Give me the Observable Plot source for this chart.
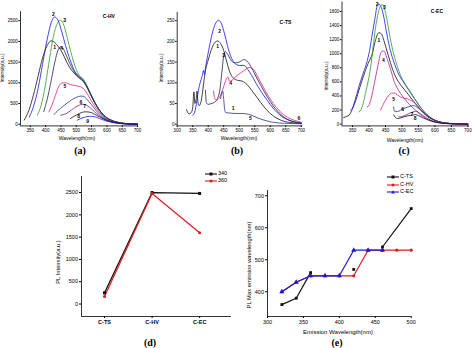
<!DOCTYPE html>
<html><head><meta charset="utf-8">
<script src="https://cdn.jsdelivr.net/npm/d3@7"></script>
<script src="https://cdn.jsdelivr.net/npm/@observablehq/plot@0.6"></script>
<style>
body{margin:0;background:#fff;}
#wrap{position:relative;width:474px;height:348px;overflow:hidden;font-family:"Liberation Sans",Arial,sans-serif;background:#fff;}
.p{position:absolute;}
.p svg{overflow:visible;}
.t{position:absolute;white-space:nowrap;color:#000;line-height:1;}
.cap{font-family:"Liberation Serif",serif;font-weight:bold;font-size:10px;transform:translate(-50%,-50%);}
.xl{transform:translate(-50%,-50%);}
.yl{transform:translate(-50%,-50%) rotate(-90deg);}
.lg{position:absolute;font-size:5.5px;line-height:1;}
</style></head><body><div id="wrap"></div>
<script>
// ---------------- DATA ----------------
// (a) C-HV spectra: [wavelength nm, intensity a.u.]
const hv1 = [[330,100],[345,330],[360,700],[375,1150],[390,1600],[405,1900],[418,2014],[430,1970],[442,1870],[455,1720],[470,1480],[485,1300],[500,1180],[512,1100],[522,1040],[532,930],[545,740],[560,520],[575,340],[590,210],[610,110],[630,55],[660,18],[700,0]];
const hv2 = [[347,178],[360,420],[375,850],[390,1450],[405,2050],[418,2450],[429,2590],[440,2520],[452,2250],[465,1900],[480,1550],[495,1280],[510,1150],[522,1080],[532,960],[545,760],[560,530],[575,345],[590,210],[610,110],[630,55],[660,18],[700,0]];
const hv3 = [[373,218],[385,450],[398,900],[410,1450],[422,2000],[435,2380],[449,2510],[460,2380],[470,2100],[482,1750],[495,1420],[508,1200],[520,1110],[532,970],[545,770],[560,540],[575,350],[590,215],[610,110],[630,55],[660,18],[700,0]];
const hv4 = [[394,306],[405,600],[418,1050],[430,1500],[440,1780],[449,1870],[458,1820],[468,1650],[480,1450],[495,1250],[510,1130],[522,1060],[534,920],[545,750],[560,530],[575,345],[590,210],[610,110],[630,55],[660,18],[700,0]];
const hv5 = [[411,300],[420,450],[432,700],[442,900],[454,1000],[466,1000],[480,960],[498,930],[512,910],[522,870],[532,780],[545,620],[560,440],[575,290],[595,150],[620,60],[650,20],[700,0]];
const hv6 = [[427,234],[440,330],[455,420],[470,510],[485,590],[500,650],[515,680],[525,670],[535,600],[550,470],[565,330],[580,210],[600,110],[625,45],[660,12],[700,0]];
const hv7 = [[449,218],[465,250],[480,320],[495,400],[510,460],[520,480],[530,470],[545,400],[560,300],[580,180],[600,95],[630,35],[660,10],[700,0]];
const hv8 = [[481,138],[495,200],[510,260],[530,300],[545,290],[560,240],[580,160],[600,90],[630,35],[660,10],[700,0]];
const hv9 = [[503,97],[515,140],[530,175],[547,193],[560,180],[575,140],[595,85],[620,40],[650,12],[700,0]];
const hvLabelText = ["1","2","3","4","5","6","7","8","9","C-HV"];
const hvLabelNm   = [429,425,462,452,463,515,527,508,537,606];
const hvLabelI    = [1852,2650,2510,1828,903,517,440,179,70,2600];

// (b) C-TS spectra
const ts1 = [[330,35],[338,25],[345,28],[350,40],[354,78],[357,50],[361,60],[364,80],[367,52],[371,45],[377,55],[383,85],[390,125],[400,155],[410,180],[420,196],[430,201],[440,195],[450,178],[460,150],[470,125],[480,112],[495,106],[510,104],[525,96],[540,82],[560,62],[580,42],[600,26],[625,13],[650,6],[700,2]];
const ts2 = [[350,22],[356,28],[362,50],[368,80],[374,100],[380,115],[385,130],[388,120],[391,135],[398,165],[405,192],[415,225],[425,245],[433,251],[442,244],[452,220],[462,190],[472,165],[485,148],[500,142],[515,142],[528,132],[540,118],[555,98],[570,80],[590,58],[610,38],[635,20],[660,10],[700,3]];
const ts3 = [[391,82],[394,52],[400,48],[410,50],[420,53],[430,62],[438,85],[444,125],[449,160],[455,175],[462,170],[472,156],[486,148],[500,150],[515,156],[528,150],[540,136],[555,114],[570,93],[590,67],[610,44],[635,23],[660,10],[700,3]];
const ts4 = [[417,80],[420,65],[426,58],[436,64],[446,82],[456,105],[463,114],[469,104],[477,106],[490,116],[505,124],[520,132],[532,137],[545,133],[558,117],[572,97],[590,73],[610,50],[630,32],[655,17],[680,9],[700,5]];
const ts5 = [[440,62],[444,76],[447,80],[450,60],[453,36],[457,28],[470,27],[490,26],[510,26],[530,24],[545,20],[560,15],[580,10],[600,6],[630,3],[660,2],[700,1]];
const tsLabelText = ["1","2","3","4","1","5","6","C-TS"];
const tsLabelNm   = [430,437,450,472,480,536,692,649];
const tsLabelI    = [188,225,167,98,38,14,14,247];

// (c) C-EC spectra
const ec1 = [[323,94],[332,110],[340,130],[350,220],[360,340],[372,520],[384,694],[397,860],[410,1000],[420,1200],[430,1300],[438,1280],[445,1190],[452,1080],[460,953],[470,800],[481,670],[491,590],[501,528],[511,470],[521,410],[531,350],[541,293],[556,210],[572,127],[590,70],[612,33],[640,12],[670,4],[700,0]];
const ec2 = [[344,198],[350,230],[357,330],[369,528],[382,720],[395,906],[403,1080],[410,1280],[418,1500],[425,1685],[430,1705],[437,1660],[445,1520],[452,1330],[460,1143],[470,960],[481,811],[491,700],[501,623],[511,550],[521,481],[531,410],[541,340],[556,240],[572,150],[590,80],[612,35],[640,12],[670,4],[700,0]];
const ec3 = [[369,174],[375,200],[382,290],[389,434],[397,600],[405,811],[412,1080],[420,1378],[428,1580],[435,1680],[440,1700],[447,1640],[455,1472],[462,1280],[470,1094],[480,910],[490,764],[498,670],[506,599],[516,525],[526,457],[536,380],[546,310],[560,220],[575,140],[592,78],[612,35],[640,12],[670,4],[700,0]];
const ec4 = [[394,245],[400,270],[405,340],[412,480],[420,670],[428,850],[435,1000],[440,1035],[445,1040],[452,970],[460,859],[468,740],[475,623],[485,520],[496,434],[506,370],[516,314],[528,255],[541,198],[556,135],[572,80],[590,42],[612,20],[640,7],[700,0]];
const ec5 = [[435,198],[442,270],[450,340],[460,410],[468,440],[475,443],[485,420],[496,385],[506,368],[516,359],[526,340],[536,311],[546,260],[557,198],[570,145],[582,104],[597,62],[612,33],[640,10],[700,0]];
const ec6 = [[475,245],[477,185],[486,178],[496,198],[506,222],[516,240],[526,255],[536,264],[546,240],[557,198],[570,150],[582,104],[597,62],[612,33],[640,10],[700,0]];
const ec7 = [[491,104],[501,110],[511,127],[521,150],[531,170],[541,182],[551,165],[562,127],[575,88],[587,57],[605,28],[623,14],[650,5],[700,0]];
const ec8 = [[475,130],[480,95],[486,80],[496,88],[506,104],[518,118],[531,127],[541,135],[551,120],[562,94],[575,68],[587,47],[605,25],[630,10],[660,3],[700,0]];
const ecLabelText = ["2","3","1","4","5","6","7","8","C-EC"];
const ecLabelNm   = [425,447,430,444,475,502,530,540,606];
const ecLabelI    = [1700,1665,1190,906,354,205,135,80,1600];

// (d) PL intensity vs sample
const dCats = ["C-TS","C-HV","C-EC"];
const d340 = [250, 2500, 2480];
const d360 = [170, 2480, 1600];
const dSeries = ["340","360"];

// (e) max emission wavelength vs excitation
const eTsX = [320,340,360,380,400,420,440,460,500];
const eTsY = [360,380,460,NaN,NaN,470,NaN,540,660];
const eHvX = [320,340,360,380,400,420,440,460,480,500];
const eHvY = [400,430,450,450,450,450,530,530,530,530];
const eEcX = [320,340,360,380,400,420,440,460];
const eEcY = [400,430,450,450,450,530,530,530];
const eSeries = ["C-TS","C-HV","C-EC"];

// ---------------- DRAW ----------------
const wrap = document.getElementById("wrap");
function place(node, left, top) {
  const div = document.createElement("div");
  div.className = "p"; div.style.left = left + "px"; div.style.top = top + "px";
  div.appendChild(node); wrap.appendChild(div);
}
function txt(s, x, y, cls, css) {
  const d = document.createElement("div");
  d.className = "t " + cls; d.textContent = s;
  d.style.left = x + "px"; d.style.top = y + "px";
  Object.assign(d.style, css || {});
  wrap.appendChild(d);
}
const baseStyle = {fontFamily: "'Liberation Sans', Arial, sans-serif", background: "transparent", color: "#000"};

function spectrum(curves, lab, o) {
  const rows = lab.text.map((t, i) => ({t, x: lab.x[i], y: lab.y[i]}));
  return Plot.plot({
    width: o.w, height: 160,
    marginLeft: o.ml, marginRight: o.mr, marginTop: o.mt, marginBottom: 34.6,
    style: {...baseStyle, fontSize: "4.6px"},
    x: {domain: o.xd}, y: {domain: o.yd},
    marks: [
      Plot.axisX({ticks: o.xt, tickSize: 1.6, tickPadding: 1, tickFormat: "d", label: null, fontSize: 4.6}),
      Plot.axisY({ticks: o.yt, tickSize: 1.6, tickPadding: 1, tickFormat: "d", label: null, fontSize: 4.6}),
      Plot.ruleX([o.xd[0]], {strokeWidth: 0.8}),
      Plot.ruleY([o.yd[0]], {strokeWidth: 0.8}),
      ...curves.map(([data, color]) => Plot.line(data, {x: d => d[0], y: d => d[1], stroke: color, strokeWidth: 0.8, curve: "monotone-x"})),
      Plot.text(rows, {x: "x", y: "y", text: "t", fontSize: 5, fontWeight: "bold"})
    ]
  });
}

const cBlack = "#111", cBlue = "#1515e6", cGreen = "#2d9a2d", cPink = "#e0207c", cNavy = "#24318f", cPurple = "#8a1a8a", cMag = "#b0208f";

place(spectrum(
  [[hv1, cBlack],[hv2, cBlue],[hv3, cGreen],[hv4, "#252545"],[hv5, cPink],[hv6, cNavy],[hv7, cPurple],[hv8, cBlack],[hv9, cBlue]],
  {text: hvLabelText, x: hvLabelNm, y: hvLabelI},
  {w: 158, ml: 20, mr: 20, mt: 11.1, xd: [318, 703], yd: [-40, 2720], xt: [350,400,450,500,550,600,650,700], yt: [0,500,1000,1500,2000,2500]}
), 0, 0);

place(spectrum(
  [[ts1, cBlack],[ts2, cBlue],[ts3, "#202040"],[ts4, cPink],[ts5, cNavy]],
  {text: tsLabelText, x: tsLabelNm, y: tsLabelI},
  {w: 156, ml: 18.7, mr: 11.7, mt: 11.9, xd: [300, 705], yd: [-4, 270], xt: [300,350,400,450,500,550,600,650,700], yt: [0,50,100,150,200,250]}
), 158, 0);

place(spectrum(
  [[ec1, cBlack],[ec2, cBlue],[ec3, cGreen],[ec4, cMag],[ec5, cPink],[ec6, cNavy],[ec7, cPurple],[ec8, cBlack]],
  {text: ecLabelText, x: ecLabelNm, y: ecLabelI},
  {w: 160, ml: 27.5, mr: 5, mt: 1.5, xd: [318, 705], yd: [-25, 1735], xt: [350,400,450,500,550,600,650,700], yt: [0,200,400,600,800,1000,1200,1400,1600]}
), 314, 0);

// (d)
const dRows = [];
dCats.forEach((c, i) => { dRows.push({i, v: d340[i], s: dSeries[0]}); dRows.push({i, v: d360[i], s: dSeries[1]}); });
place(Plot.plot({
  width: 240, height: 183, marginLeft: 81, marginRight: 9, marginTop: 11, marginBottom: 32,
  style: {...baseStyle, fontSize: "5.5px"},
  x: {type: "linear", domain: [-0.484, 2.67]},
  y: {domain: [-280, 2860]},
  color: {domain: dSeries, range: ["#111", "#e01b1b"]},
  marks: [
    Plot.axisX({ticks: [0,1,2], tickFormat: i => dCats[i], tickSize: 2, tickPadding: 2, label: null, fontWeight: "bold", fontSize: 5.5}),
    Plot.axisY({ticks: [0,500,1000,1500,2000,2500], tickFormat: "d", tickSize: 2, tickPadding: 1.5, label: null, fontSize: 5.5}),
    Plot.ruleX([-0.484], {strokeWidth: 0.8}),
    Plot.ruleY([-280], {strokeWidth: 0.8}),
    Plot.line(dRows, {x: "i", y: "v", z: "s", stroke: "s", strokeWidth: 1.2}),
    Plot.dot(dRows.filter(r => r.s === "340"), {x: "i", y: "v", symbol: "square", r: 1.7, fill: "#111"}),
    Plot.dot(dRows.filter(r => r.s === "360"), {x: "i", y: "v", symbol: "circle", r: 1.5, fill: "#e01b1b"})
  ]
}), 0, 165);

// (e)
const eRows = [
  ...eTsX.map((x, i) => ({x, y: eTsY[i], s: "C-TS"})),
  ...eHvX.map((x, i) => ({x, y: eHvY[i], s: "C-HV"})),
  ...eEcX.map((x, i) => ({x, y: eEcY[i], s: "C-EC"}))
];
const eColor = {"C-TS": "#111", "C-HV": "#e01b1b", "C-EC": "#1a1ad6"};
const eSym = {"C-TS": "square", "C-HV": "circle", "C-EC": "triangle"};
place(Plot.plot({
  width: 234, height: 183, marginLeft: 27, marginRight: 63.3, marginTop: 25, marginBottom: 32,
  style: {...baseStyle, fontSize: "5.5px"},
  x: {domain: [300, 500]},
  y: {domain: [322.8, 716.6]},
  marks: [
    Plot.axisX({ticks: [300,350,400,450,500], tickSize: 2, tickPadding: 2, label: null, fontSize: 5.5}),
    Plot.axisY({ticks: [400,500,600,700], tickSize: 2, tickPadding: 1.5, label: null, fontSize: 5.5}),
    Plot.ruleX([300], {strokeWidth: 0.8}),
    Plot.ruleY([322.8], {strokeWidth: 0.8}),
    ...eSeries.map(s => Plot.line(eRows.filter(r => r.s === s), {x: "x", y: "y", stroke: eColor[s], strokeWidth: 1.2})),
    ...eSeries.map(s => Plot.dot(eRows.filter(r => r.s === s && !isNaN(r.y)), {x: "x", y: "y", symbol: eSym[s], r: s === "C-EC" ? 1.9 : 1.6, fill: eColor[s]}))
  ]
}), 240, 165);

// axis titles and captions
txt("Intensity(a.u.)", 3, 68, "yl", {fontSize: "4.8px"});
txt("Intensity(a.u.)", 162, 68, "yl", {fontSize: "4.8px"});
txt("Intensity(a.u.)", 327, 76, "yl", {fontSize: "4.8px"});
txt("Wavelength(nm)", 77, 137.5, "xl", {fontSize: "5px"});
txt("Wavelength(nm)", 239, 137.5, "xl", {fontSize: "5px"});
txt("Wavelength(nm)", 405, 139.5, "xl", {fontSize: "5px"});
txt("(a)", 80, 151, "cap");
txt("(b)", 237, 151, "cap");
txt("(c)", 404, 151, "cap");
txt("PL Intensity(a.u.)", 59, 262, "yl", {fontSize: "5.8px"});
txt("PL Max emission wavelength(nm)", 250, 265, "yl", {fontSize: "5.8px"});
txt("Emission Wavelength(nm)", 338, 331.5, "xl", {fontSize: "6px"});
txt("(d)", 150, 343, "cap");
txt("(e)", 337, 343, "cap");

// legends
function legend(items, x, y, step) {
  items.forEach(([label, color, sym], k) => {
    const d = document.createElement("div");
    d.className = "lg";
    d.style.left = x + "px"; d.style.top = (y + k * step - 3) + "px";
    const mk = sym === "square" ? `<rect x="4.5" y="1.5" width="3" height="3" fill="${color}"/>`
      : sym === "circle" ? `<circle cx="6" cy="3" r="1.5" fill="${color}"/>`
      : `<path d="M6,1.2L7.8,4.4L4.2,4.4Z" fill="${color}"/>`;
    d.innerHTML = `<svg width="12" height="6" style="vertical-align:middle"><line x1="0" y1="3" x2="12" y2="3" stroke="${color}" stroke-width="1.1"/>${mk}</svg><span style="vertical-align:middle;margin-left:1px">${label}</span>`;
    wrap.appendChild(d);
  });
}
legend([[dSeries[0], "#111", "square"], [dSeries[1], "#e01b1b", "circle"]], 205, 174, 7);
legend([[eSeries[0], "#111", "square"], [eSeries[1], "#e01b1b", "circle"], [eSeries[2], "#1a1ad6", "triangle"]], 387, 177, 7.5);
</script></body></html>
